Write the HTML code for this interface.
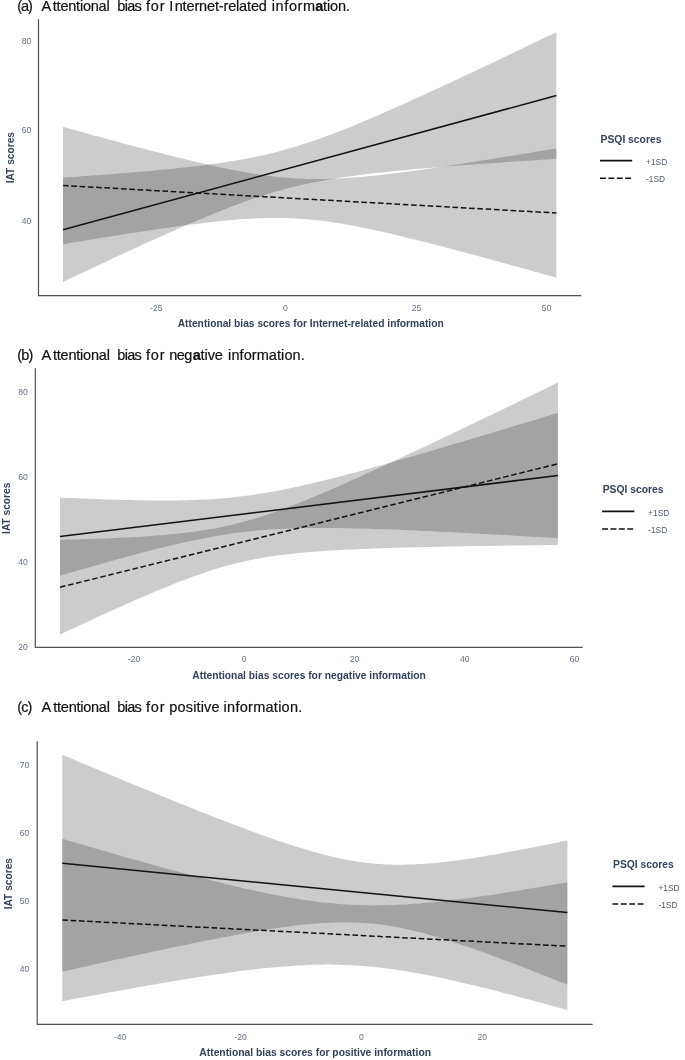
<!DOCTYPE html>
<html lang="en"><head><meta charset="utf-8"><title>Figure</title>
<style>
html,body{margin:0;padding:0;background:#fff;}
body{width:685px;height:1060px;overflow:hidden;}
svg{display:block;}
text{font-family:"Liberation Sans",Arial,sans-serif;}
.ttl{font-size:14.5px;fill:#111;stroke:#111;stroke-width:0.2px;}
.tick{font-size:8.6px;fill:#657184;}
.axt{font-size:10.25px;font-weight:bold;fill:#34425c;}
.leg{font-size:8.4px;fill:#4e5b72;}
</style></head>
<body>
<svg width="685" height="1060" viewBox="0 0 685 1060">
<rect width="685" height="1060" fill="#fff"/>
<g>
<text class="ttl" y="11.2" xml:space="preserve"><tspan x="17.3" letter-spacing="-1.11">(a) </tspan><tspan x="41.5" letter-spacing="0.00">A</tspan><tspan x="52.8" letter-spacing="-0.22">ttentional </tspan><tspan x="117.3" letter-spacing="-0.70">bias </tspan><tspan x="145.9" letter-spacing="0.84">for </tspan><tspan x="169.3" letter-spacing="0.00">I</tspan><tspan x="174.7" letter-spacing="-0.15">nternet-related </tspan><tspan x="271.8" letter-spacing="0.60">inform</tspan><tspan x="315.3" letter-spacing="0.00" font-weight="bold">a</tspan><tspan x="323.1" letter-spacing="-0.15">tion.</tspan></text>
<polygon points="63.0,177.6 67.1,177.3 71.3,177.0 75.4,176.7 79.6,176.4 83.7,176.1 87.9,175.9 92.0,175.5 96.2,175.2 100.3,174.9 104.5,174.6 108.6,174.3 112.8,174.0 116.9,173.7 121.0,173.3 125.2,173.0 129.3,172.7 133.5,172.3 137.6,172.0 141.8,171.6 145.9,171.3 150.1,170.9 154.2,170.5 158.4,170.1 162.5,169.7 166.7,169.3 170.8,168.9 174.9,168.5 179.1,168.1 183.2,167.6 187.4,167.2 191.5,166.7 195.7,166.2 199.8,165.7 204.0,165.2 208.1,164.6 212.3,164.1 216.4,163.5 220.6,162.9 224.7,162.3 228.8,161.6 233.0,161.0 237.1,160.3 241.3,159.5 245.4,158.8 249.6,158.0 253.7,157.2 257.9,156.3 262.0,155.4 266.2,154.4 270.3,153.5 274.5,152.4 278.6,151.4 282.7,150.3 286.9,149.1 291.0,147.9 295.2,146.7 299.3,145.4 303.5,144.1 307.6,142.7 311.8,141.4 315.9,139.9 320.1,138.5 324.2,137.0 328.4,135.4 332.5,133.9 336.7,132.3 340.8,130.7 344.9,129.1 349.1,127.4 353.2,125.7 357.4,124.0 361.5,122.3 365.7,120.5 369.8,118.8 374.0,117.0 378.1,115.2 382.3,113.4 386.4,111.6 390.6,109.8 394.7,108.0 398.8,106.1 403.0,104.3 407.1,102.4 411.3,100.5 415.4,98.6 419.6,96.8 423.7,94.9 427.9,93.0 432.0,91.1 436.2,89.1 440.3,87.2 444.5,85.3 448.6,83.4 452.7,81.4 456.9,79.5 461.0,77.6 465.2,75.6 469.3,73.7 473.5,71.7 477.6,69.8 481.8,67.8 485.9,65.8 490.1,63.9 494.2,61.9 498.4,59.9 502.5,58.0 506.6,56.0 510.8,54.0 514.9,52.0 519.1,50.1 523.2,48.1 527.4,46.1 531.5,44.1 535.7,42.1 539.8,40.1 544.0,38.1 548.1,36.1 552.3,34.2 556.4,32.2 556.4,158.8 552.3,159.1 548.1,159.4 544.0,159.6 539.8,159.9 535.7,160.2 531.5,160.4 527.4,160.7 523.2,161.0 519.1,161.3 514.9,161.5 510.8,161.8 506.6,162.1 502.5,162.4 498.4,162.7 494.2,163.0 490.1,163.2 485.9,163.5 481.8,163.8 477.6,164.1 473.5,164.4 469.3,164.7 465.2,165.0 461.0,165.4 456.9,165.7 452.7,166.0 448.6,166.3 444.5,166.6 440.3,167.0 436.2,167.3 432.0,167.7 427.9,168.0 423.7,168.4 419.6,168.7 415.4,169.1 411.3,169.5 407.1,169.9 403.0,170.3 398.8,170.7 394.7,171.1 390.6,171.5 386.4,171.9 382.3,172.4 378.1,172.8 374.0,173.3 369.8,173.8 365.7,174.3 361.5,174.8 357.4,175.3 353.2,175.9 349.1,176.5 344.9,177.1 340.8,177.7 336.7,178.3 332.5,179.0 328.4,179.7 324.2,180.4 320.1,181.2 315.9,182.0 311.8,182.8 307.6,183.7 303.5,184.6 299.3,185.5 295.2,186.5 291.0,187.5 286.9,188.6 282.7,189.7 278.6,190.9 274.5,192.1 270.3,193.3 266.2,194.6 262.0,195.9 257.9,197.2 253.7,198.6 249.6,200.0 245.4,201.5 241.3,203.0 237.1,204.5 233.0,206.1 228.8,207.7 224.7,209.3 220.6,210.9 216.4,212.6 212.3,214.3 208.1,216.0 204.0,217.7 199.8,219.4 195.7,221.2 191.5,222.9 187.4,224.7 183.2,226.5 179.1,228.3 174.9,230.2 170.8,232.0 166.7,233.8 162.5,235.7 158.4,237.6 154.2,239.4 150.1,241.3 145.9,243.2 141.8,245.1 137.6,247.0 133.5,248.9 129.3,250.8 125.2,252.7 121.0,254.7 116.9,256.6 112.8,258.5 108.6,260.5 104.5,262.4 100.3,264.3 96.2,266.3 92.0,268.3 87.9,270.2 83.7,272.2 79.6,274.1 75.4,276.1 71.3,278.1 67.1,280.0 63.0,282.0" fill="rgba(0,0,0,0.2)"/>
<polygon points="63.0,126.8 67.1,128.0 71.3,129.1 75.4,130.3 79.6,131.4 83.7,132.6 87.9,133.7 92.0,134.9 96.2,136.0 100.3,137.1 104.5,138.3 108.6,139.4 112.8,140.5 116.9,141.6 121.0,142.7 125.2,143.9 129.3,145.0 133.5,146.1 137.6,147.2 141.8,148.3 145.9,149.3 150.1,150.4 154.2,151.5 158.4,152.6 162.5,153.6 166.7,154.7 170.8,155.7 174.9,156.8 179.1,157.8 183.2,158.8 187.4,159.8 191.5,160.8 195.7,161.8 199.8,162.8 204.0,163.8 208.1,164.7 212.3,165.6 216.4,166.5 220.6,167.4 224.7,168.3 228.8,169.2 233.0,170.0 237.1,170.8 241.3,171.6 245.4,172.3 249.6,173.0 253.7,173.7 257.9,174.4 262.0,175.0 266.2,175.6 270.3,176.1 274.5,176.6 278.6,177.1 282.7,177.5 286.9,177.8 291.0,178.1 295.2,178.4 299.3,178.6 303.5,178.8 307.6,178.9 311.8,179.0 315.9,179.0 320.1,179.0 324.2,179.0 328.4,178.9 332.5,178.7 336.7,178.6 340.8,178.4 344.9,178.1 349.1,177.8 353.2,177.5 357.4,177.2 361.5,176.9 365.7,176.5 369.8,176.1 374.0,175.7 378.1,175.2 382.3,174.8 386.4,174.3 390.6,173.8 394.7,173.3 398.8,172.8 403.0,172.2 407.1,171.7 411.3,171.1 415.4,170.6 419.6,170.0 423.7,169.4 427.9,168.8 432.0,168.2 436.2,167.6 440.3,167.0 444.5,166.4 448.6,165.8 452.7,165.2 456.9,164.5 461.0,163.9 465.2,163.2 469.3,162.6 473.5,162.0 477.6,161.3 481.8,160.6 485.9,160.0 490.1,159.3 494.2,158.6 498.4,158.0 502.5,157.3 506.6,156.6 510.8,155.9 514.9,155.3 519.1,154.6 523.2,153.9 527.4,153.2 531.5,152.5 535.7,151.8 539.8,151.1 544.0,150.4 548.1,149.7 552.3,149.0 556.4,148.3 556.4,277.7 552.3,276.5 548.1,275.3 544.0,274.2 539.8,273.0 535.7,271.9 531.5,270.7 527.4,269.6 523.2,268.4 519.1,267.3 514.9,266.1 510.8,265.0 506.6,263.8 502.5,262.7 498.4,261.6 494.2,260.4 490.1,259.3 485.9,258.2 481.8,257.0 477.6,255.9 473.5,254.8 469.3,253.7 465.2,252.6 461.0,251.5 456.9,250.4 452.7,249.3 448.6,248.2 444.5,247.1 440.3,246.0 436.2,245.0 432.0,243.9 427.9,242.8 423.7,241.8 419.6,240.7 415.4,239.7 411.3,238.7 407.1,237.7 403.0,236.7 398.8,235.7 394.7,234.7 390.6,233.7 386.4,232.8 382.3,231.8 378.1,230.9 374.0,230.0 369.8,229.1 365.7,228.3 361.5,227.4 357.4,226.6 353.2,225.8 349.1,225.0 344.9,224.3 340.8,223.6 336.7,222.9 332.5,222.3 328.4,221.7 324.2,221.1 320.1,220.6 315.9,220.2 311.8,219.7 307.6,219.3 303.5,219.0 299.3,218.7 295.2,218.5 291.0,218.3 286.9,218.1 282.7,218.0 278.6,218.0 274.5,218.0 270.3,218.0 266.2,218.1 262.0,218.2 257.9,218.3 253.7,218.5 249.6,218.8 245.4,219.0 241.3,219.3 237.1,219.6 233.0,220.0 228.8,220.3 224.7,220.7 220.6,221.1 216.4,221.6 212.3,222.0 208.1,222.5 204.0,223.0 199.8,223.5 195.7,224.0 191.5,224.5 187.4,225.0 183.2,225.6 179.1,226.1 174.9,226.7 170.8,227.3 166.7,227.9 162.5,228.5 158.4,229.1 154.2,229.7 150.1,230.3 145.9,230.9 141.8,231.5 137.6,232.2 133.5,232.8 129.3,233.4 125.2,234.1 121.0,234.7 116.9,235.4 112.8,236.0 108.6,236.7 104.5,237.4 100.3,238.0 96.2,238.7 92.0,239.4 87.9,240.0 83.7,240.7 79.6,241.4 75.4,242.1 71.3,242.8 67.1,243.5 63.0,244.2" fill="rgba(0,0,0,0.2)"/>
<line x1="63.0" y1="229.8" x2="556.4" y2="95.5" stroke="#111" stroke-width="1.5"/>
<line x1="63.0" y1="185.5" x2="556.4" y2="213.0" stroke="#111" stroke-width="1.5" stroke-dasharray="5.6 2.7"/>
<path d="M38.5 19.3 V295.6 H581.3" fill="none" stroke="#505050" stroke-width="1.2"/>
<text class="tick" x="31.3" y="43.5" text-anchor="end">80</text>
<text class="tick" x="31.3" y="133.1" text-anchor="end">60</text>
<text class="tick" x="31.3" y="224.0" text-anchor="end">40</text>
<text class="tick" x="156.4" y="311.1" text-anchor="middle">-25</text>
<text class="tick" x="285.3" y="311.1" text-anchor="middle">0</text>
<text class="tick" x="416.6" y="311.1" text-anchor="middle">25</text>
<text class="tick" x="546.4" y="311.1" text-anchor="middle">50</text>
<text class="axt" x="177.7" y="326.5" textLength="266.0" lengthAdjust="spacingAndGlyphs">Attentional bias scores for Internet-related information</text>
<text class="axt" transform="translate(13.6 157.7) rotate(-90)" text-anchor="middle" textLength="51.3" lengthAdjust="spacingAndGlyphs">IAT scores</text>
<text class="axt" x="600.6" y="142.6" textLength="60.8" lengthAdjust="spacingAndGlyphs">PSQI scores</text>
<line x1="600.0" y1="160.6" x2="632.2" y2="160.6" stroke="#111" stroke-width="1.6"/>
<line x1="600.0" y1="178.2" x2="632.2" y2="178.2" stroke="#111" stroke-width="1.6" stroke-dasharray="5.9 2.5"/>
<text class="leg" x="646.0" y="164.6">+1SD</text>
<text class="leg" x="646.0" y="182.1">-1SD</text>
</g>
<g>
<text class="ttl" y="359.8" xml:space="preserve"><tspan x="17.2" letter-spacing="-0.76">(b) </tspan><tspan x="41.5" letter-spacing="0.00">A</tspan><tspan x="53.0" letter-spacing="-0.22">ttentional </tspan><tspan x="117.3" letter-spacing="-0.70">bias </tspan><tspan x="145.9" letter-spacing="0.84">for </tspan><tspan x="169.3" letter-spacing="-0.55">neg</tspan><tspan x="192.8" letter-spacing="0.00" font-weight="bold">a</tspan><tspan x="200.6" letter-spacing="-0.09">tive </tspan><tspan x="228.1" letter-spacing="0.08">information.</tspan></text>
<polygon points="60.0,497.5 64.2,497.7 68.4,497.9 72.6,498.1 76.7,498.3 80.9,498.4 85.1,498.6 89.3,498.8 93.5,498.9 97.7,499.1 101.8,499.3 106.0,499.4 110.2,499.5 114.4,499.7 118.6,499.8 122.8,499.9 126.9,500.0 131.1,500.1 135.3,500.2 139.5,500.3 143.7,500.3 147.9,500.4 152.0,500.4 156.2,500.5 160.4,500.5 164.6,500.5 168.8,500.5 173.0,500.4 177.2,500.4 181.3,500.3 185.5,500.2 189.7,500.1 193.9,500.0 198.1,499.8 202.3,499.6 206.4,499.4 210.6,499.2 214.8,498.9 219.0,498.6 223.2,498.2 227.4,497.9 231.5,497.5 235.7,497.0 239.9,496.5 244.1,496.0 248.3,495.5 252.5,494.9 256.6,494.3 260.8,493.6 265.0,493.0 269.2,492.2 273.4,491.5 277.6,490.7 281.8,489.9 285.9,489.1 290.1,488.2 294.3,487.3 298.5,486.4 302.7,485.5 306.9,484.5 311.0,483.6 315.2,482.6 319.4,481.6 323.6,480.5 327.8,479.5 332.0,478.4 336.1,477.4 340.3,476.3 344.5,475.2 348.7,474.1 352.9,473.0 357.1,471.9 361.3,470.7 365.4,469.6 369.6,468.4 373.8,467.3 378.0,466.1 382.2,464.9 386.4,463.8 390.5,462.6 394.7,461.4 398.9,460.2 403.1,459.0 407.3,457.8 411.5,456.6 415.6,455.4 419.8,454.2 424.0,453.0 428.2,451.7 432.4,450.5 436.6,449.3 440.7,448.1 444.9,446.8 449.1,445.6 453.3,444.3 457.5,443.1 461.7,441.9 465.9,440.6 470.0,439.4 474.2,438.1 478.4,436.9 482.6,435.6 486.8,434.4 491.0,433.1 495.1,431.8 499.3,430.6 503.5,429.3 507.7,428.1 511.9,426.8 516.1,425.5 520.2,424.3 524.4,423.0 528.6,421.7 532.8,420.5 537.0,419.2 541.2,417.9 545.3,416.6 549.5,415.4 553.7,414.1 557.9,412.8 557.9,538.2 553.7,537.9 549.5,537.7 545.3,537.4 541.2,537.2 537.0,537.0 532.8,536.7 528.6,536.5 524.4,536.2 520.2,536.0 516.1,535.7 511.9,535.5 507.7,535.3 503.5,535.0 499.3,534.8 495.1,534.6 491.0,534.3 486.8,534.1 482.6,533.9 478.4,533.6 474.2,533.4 470.0,533.2 465.9,533.0 461.7,532.8 457.5,532.5 453.3,532.3 449.1,532.1 444.9,531.9 440.7,531.7 436.6,531.5 432.4,531.3 428.2,531.1 424.0,530.9 419.8,530.7 415.6,530.5 411.5,530.3 407.3,530.2 403.1,530.0 398.9,529.8 394.7,529.6 390.5,529.5 386.4,529.3 382.2,529.2 378.0,529.0 373.8,528.9 369.6,528.8 365.4,528.6 361.3,528.5 357.1,528.4 352.9,528.3 348.7,528.2 344.5,528.2 340.3,528.1 336.1,528.0 332.0,528.0 327.8,528.0 323.6,528.0 319.4,528.0 315.2,528.0 311.0,528.0 306.9,528.1 302.7,528.1 298.5,528.2 294.3,528.4 290.1,528.5 285.9,528.7 281.8,528.9 277.6,529.1 273.4,529.3 269.2,529.6 265.0,529.9 260.8,530.3 256.6,530.6 252.5,531.1 248.3,531.5 244.1,532.0 239.9,532.5 235.7,533.1 231.5,533.6 227.4,534.3 223.2,534.9 219.0,535.6 214.8,536.3 210.6,537.1 206.4,537.9 202.3,538.7 198.1,539.5 193.9,540.4 189.7,541.3 185.5,542.2 181.3,543.1 177.2,544.1 173.0,545.0 168.8,546.0 164.6,547.0 160.4,548.1 156.2,549.1 152.0,550.2 147.9,551.2 143.7,552.3 139.5,553.4 135.3,554.5 131.1,555.6 126.9,556.8 122.8,557.9 118.6,559.0 114.4,560.2 110.2,561.3 106.0,562.5 101.8,563.7 97.7,564.9 93.5,566.0 89.3,567.2 85.1,568.4 80.9,569.6 76.7,570.8 72.6,572.0 68.4,573.2 64.2,574.5 60.0,575.7" fill="rgba(0,0,0,0.2)"/>
<polygon points="60.0,539.9 64.2,539.7 68.4,539.6 72.6,539.5 76.7,539.4 80.9,539.3 85.1,539.1 89.3,539.0 93.5,538.8 97.7,538.7 101.8,538.5 106.0,538.4 110.2,538.2 114.4,538.0 118.6,537.8 122.8,537.6 126.9,537.4 131.1,537.2 135.3,537.0 139.5,536.7 143.7,536.5 147.9,536.2 152.0,535.9 156.2,535.6 160.4,535.2 164.6,534.9 168.8,534.5 173.0,534.1 177.2,533.7 181.3,533.3 185.5,532.8 189.7,532.3 193.9,531.7 198.1,531.1 202.3,530.5 206.4,529.8 210.6,529.1 214.8,528.4 219.0,527.6 223.2,526.7 227.4,525.8 231.5,524.9 235.7,523.8 239.9,522.8 244.1,521.7 248.3,520.5 252.5,519.3 256.6,518.0 260.8,516.7 265.0,515.3 269.2,513.9 273.4,512.5 277.6,511.0 281.8,509.5 285.9,507.9 290.1,506.3 294.3,504.7 298.5,503.1 302.7,501.4 306.9,499.7 311.0,498.0 315.2,496.2 319.4,494.5 323.6,492.7 327.8,490.9 332.0,489.1 336.1,487.2 340.3,485.4 344.5,483.6 348.7,481.7 352.9,479.8 357.1,477.9 361.3,476.0 365.4,474.1 369.6,472.2 373.8,470.3 378.0,468.4 382.2,466.5 386.4,464.5 390.5,462.6 394.7,460.6 398.9,458.7 403.1,456.7 407.3,454.8 411.5,452.8 415.6,450.8 419.8,448.9 424.0,446.9 428.2,444.9 432.4,442.9 436.6,441.0 440.7,439.0 444.9,437.0 449.1,435.0 453.3,433.0 457.5,431.0 461.7,429.0 465.9,427.0 470.0,425.0 474.2,423.0 478.4,421.0 482.6,419.0 486.8,417.0 491.0,415.0 495.1,412.9 499.3,410.9 503.5,408.9 507.7,406.9 511.9,404.9 516.1,402.9 520.2,400.8 524.4,398.8 528.6,396.8 532.8,394.8 537.0,392.7 541.2,390.7 545.3,388.7 549.5,386.7 553.7,384.6 557.9,382.6 557.9,545.0 553.7,545.0 549.5,545.1 545.3,545.1 541.2,545.2 537.0,545.2 532.8,545.3 528.6,545.3 524.4,545.4 520.2,545.4 516.1,545.5 511.9,545.5 507.7,545.6 503.5,545.7 499.3,545.7 495.1,545.8 491.0,545.8 486.8,545.9 482.6,546.0 478.4,546.0 474.2,546.1 470.0,546.2 465.9,546.2 461.7,546.3 457.5,546.4 453.3,546.5 449.1,546.5 444.9,546.6 440.7,546.7 436.6,546.8 432.4,546.9 428.2,547.0 424.0,547.1 419.8,547.2 415.6,547.3 411.5,547.4 407.3,547.5 403.1,547.6 398.9,547.7 394.7,547.8 390.5,548.0 386.4,548.1 382.2,548.2 378.0,548.4 373.8,548.5 369.6,548.7 365.4,548.9 361.3,549.0 357.1,549.2 352.9,549.4 348.7,549.6 344.5,549.8 340.3,550.0 336.1,550.3 332.0,550.5 327.8,550.8 323.6,551.1 319.4,551.4 315.2,551.7 311.0,552.0 306.9,552.3 302.7,552.7 298.5,553.1 294.3,553.5 290.1,554.0 285.9,554.5 281.8,555.0 277.6,555.5 273.4,556.1 269.2,556.8 265.0,557.4 260.8,558.1 256.6,558.9 252.5,559.7 248.3,560.6 244.1,561.5 239.9,562.4 235.7,563.4 231.5,564.5 227.4,565.6 223.2,566.8 219.0,568.0 214.8,569.3 210.6,570.6 206.4,572.0 202.3,573.4 198.1,574.8 193.9,576.3 189.7,577.8 185.5,579.4 181.3,581.0 177.2,582.6 173.0,584.3 168.8,586.0 164.6,587.7 160.4,589.4 156.2,591.1 152.0,592.9 147.9,594.7 143.7,596.5 139.5,598.3 135.3,600.1 131.1,601.9 126.9,603.8 122.8,605.7 118.6,607.5 114.4,609.4 110.2,611.3 106.0,613.2 101.8,615.1 97.7,617.0 93.5,619.0 89.3,620.9 85.1,622.8 80.9,624.8 76.7,626.7 72.6,628.7 68.4,630.6 64.2,632.6 60.0,634.5" fill="rgba(0,0,0,0.2)"/>
<line x1="60.0" y1="536.6" x2="557.9" y2="475.5" stroke="#111" stroke-width="1.5"/>
<line x1="60.0" y1="587.2" x2="557.9" y2="463.8" stroke="#111" stroke-width="1.5" stroke-dasharray="5.6 2.7"/>
<path d="M35.3 368.3 V647.4 H582.7" fill="none" stroke="#505050" stroke-width="1.2"/>
<text class="tick" x="27.9" y="395.0" text-anchor="end">80</text>
<text class="tick" x="27.9" y="479.9" text-anchor="end">60</text>
<text class="tick" x="27.9" y="565.2" text-anchor="end">40</text>
<text class="tick" x="27.9" y="649.9" text-anchor="end">20</text>
<text class="tick" x="134.0" y="662.2" text-anchor="middle">-20</text>
<text class="tick" x="244.2" y="662.2" text-anchor="middle">0</text>
<text class="tick" x="354.5" y="662.2" text-anchor="middle">20</text>
<text class="tick" x="464.7" y="662.2" text-anchor="middle">40</text>
<text class="tick" x="574.5" y="662.2" text-anchor="middle">60</text>
<text class="axt" x="192.3" y="678.7" textLength="233.5" lengthAdjust="spacingAndGlyphs">Attentional bias scores for negative information</text>
<text class="axt" transform="translate(9.9 508.3) rotate(-90)" text-anchor="middle" textLength="51.3" lengthAdjust="spacingAndGlyphs">IAT scores</text>
<text class="axt" x="602.7" y="492.9" textLength="60.8" lengthAdjust="spacingAndGlyphs">PSQI scores</text>
<line x1="602.1" y1="511.4" x2="634.3" y2="511.4" stroke="#111" stroke-width="1.6"/>
<line x1="602.1" y1="529.0" x2="634.3" y2="529.0" stroke="#111" stroke-width="1.6" stroke-dasharray="5.9 2.5"/>
<text class="leg" x="648.1" y="515.7">+1SD</text>
<text class="leg" x="648.1" y="533.2">-1SD</text>
</g>
<g>
<text class="ttl" y="712.0" xml:space="preserve"><tspan x="17.2" letter-spacing="-0.85">(c) </tspan><tspan x="41.6" letter-spacing="0.00">A</tspan><tspan x="53.3" letter-spacing="-0.25">ttentional </tspan><tspan x="117.3" letter-spacing="-0.70">bias </tspan><tspan x="145.9" letter-spacing="0.84">for </tspan><tspan x="169.3" letter-spacing="0.16">positive </tspan><tspan x="223.6" letter-spacing="0.27">information.</tspan></text>
<polygon points="62.3,754.8 66.5,756.6 70.8,758.3 75.0,760.1 79.3,761.9 83.5,763.7 87.8,765.5 92.0,767.2 96.3,769.0 100.5,770.8 104.7,772.5 109.0,774.3 113.2,776.1 117.5,777.8 121.7,779.6 126.0,781.4 130.2,783.1 134.5,784.9 138.7,786.6 142.9,788.4 147.2,790.1 151.4,791.8 155.7,793.6 159.9,795.3 164.2,797.0 168.4,798.8 172.7,800.5 176.9,802.2 181.1,803.9 185.4,805.6 189.6,807.3 193.9,809.0 198.1,810.7 202.4,812.4 206.6,814.0 210.9,815.7 215.1,817.4 219.3,819.0 223.6,820.7 227.8,822.3 232.1,823.9 236.3,825.5 240.6,827.1 244.8,828.7 249.1,830.3 253.3,831.9 257.5,833.4 261.8,834.9 266.0,836.5 270.3,837.9 274.5,839.4 278.8,840.9 283.0,842.3 287.3,843.7 291.5,845.1 295.7,846.5 300.0,847.8 304.2,849.1 308.5,850.3 312.7,851.6 317.0,852.8 321.2,853.9 325.5,855.0 329.7,856.0 334.0,857.0 338.2,858.0 342.4,858.9 346.7,859.7 350.9,860.5 355.2,861.2 359.4,861.9 363.7,862.4 367.9,863.0 372.2,863.4 376.4,863.8 380.6,864.1 384.9,864.4 389.1,864.5 393.4,864.7 397.6,864.7 401.9,864.7 406.1,864.6 410.4,864.5 414.6,864.4 418.8,864.1 423.1,863.9 427.3,863.6 431.6,863.2 435.8,862.8 440.1,862.4 444.3,861.9 448.6,861.4 452.8,860.9 457.0,860.3 461.3,859.8 465.5,859.2 469.8,858.5 474.0,857.9 478.3,857.2 482.5,856.5 486.8,855.8 491.0,855.1 495.2,854.4 499.5,853.6 503.7,852.9 508.0,852.1 512.2,851.3 516.5,850.5 520.7,849.7 525.0,848.9 529.2,848.1 533.4,847.3 537.7,846.4 541.9,845.6 546.2,844.7 550.4,843.9 554.7,843.0 558.9,842.2 563.2,841.3 567.4,840.4 567.4,984.8 563.2,983.1 558.9,981.4 554.7,979.7 550.4,978.0 546.2,976.3 541.9,974.6 537.7,973.0 533.4,971.3 529.2,969.6 525.0,968.0 520.7,966.3 516.5,964.7 512.2,963.1 508.0,961.5 503.7,959.9 499.5,958.3 495.2,956.7 491.0,955.1 486.8,953.6 482.5,952.1 478.3,950.5 474.0,949.0 469.8,947.6 465.5,946.1 461.3,944.7 457.0,943.3 452.8,941.9 448.6,940.5 444.3,939.2 440.1,937.9 435.8,936.7 431.6,935.4 427.3,934.2 423.1,933.1 418.8,932.0 414.6,931.0 410.4,930.0 406.1,929.0 401.9,928.1 397.6,927.3 393.4,926.5 389.1,925.8 384.9,925.1 380.6,924.6 376.4,924.0 372.2,923.6 367.9,923.2 363.7,922.9 359.4,922.7 355.2,922.5 350.9,922.4 346.7,922.3 342.4,922.3 338.2,922.4 334.0,922.5 329.7,922.7 325.5,922.9 321.2,923.1 317.0,923.5 312.7,923.8 308.5,924.2 304.2,924.6 300.0,925.1 295.7,925.6 291.5,926.1 287.3,926.7 283.0,927.3 278.8,927.9 274.5,928.5 270.3,929.1 266.0,929.8 261.8,930.5 257.5,931.2 253.3,931.9 249.1,932.6 244.8,933.4 240.6,934.1 236.3,934.9 232.1,935.7 227.8,936.5 223.6,937.3 219.3,938.1 215.1,938.9 210.9,939.8 206.6,940.6 202.4,941.4 198.1,942.3 193.9,943.1 189.6,944.0 185.4,944.9 181.1,945.7 176.9,946.6 172.7,947.5 168.4,948.4 164.2,949.3 159.9,950.2 155.7,951.1 151.4,952.0 147.2,952.9 142.9,953.8 138.7,954.7 134.5,955.7 130.2,956.6 126.0,957.5 121.7,958.4 117.5,959.4 113.2,960.3 109.0,961.2 104.7,962.2 100.5,963.1 96.3,964.0 92.0,965.0 87.8,965.9 83.5,966.9 79.3,967.8 75.0,968.8 70.8,969.7 66.5,970.7 62.3,971.6" fill="rgba(0,0,0,0.2)"/>
<polygon points="62.3,838.7 66.5,840.0 70.8,841.2 75.0,842.5 79.3,843.7 83.5,845.0 87.8,846.2 92.0,847.4 96.3,848.7 100.5,849.9 104.7,851.1 109.0,852.3 113.2,853.6 117.5,854.8 121.7,856.0 126.0,857.2 130.2,858.4 134.5,859.6 138.7,860.8 142.9,862.0 147.2,863.2 151.4,864.3 155.7,865.5 159.9,866.7 164.2,867.9 168.4,869.0 172.7,870.2 176.9,871.3 181.1,872.5 185.4,873.6 189.6,874.7 193.9,875.8 198.1,876.9 202.4,878.0 206.6,879.1 210.9,880.2 215.1,881.3 219.3,882.3 223.6,883.4 227.8,884.4 232.1,885.4 236.3,886.4 240.6,887.4 244.8,888.4 249.1,889.4 253.3,890.3 257.5,891.2 261.8,892.2 266.0,893.0 270.3,893.9 274.5,894.7 278.8,895.6 283.0,896.4 287.3,897.1 291.5,897.9 295.7,898.6 300.0,899.3 304.2,899.9 308.5,900.5 312.7,901.1 317.0,901.7 321.2,902.2 325.5,902.7 329.7,903.1 334.0,903.5 338.2,903.9 342.4,904.2 346.7,904.5 350.9,904.7 355.2,904.9 359.4,905.1 363.7,905.2 367.9,905.3 372.2,905.4 376.4,905.4 380.6,905.3 384.9,905.2 389.1,905.1 393.4,905.0 397.6,904.8 401.9,904.6 406.1,904.4 410.4,904.1 414.6,903.8 418.8,903.5 423.1,903.1 427.3,902.8 431.6,902.4 435.8,901.9 440.1,901.5 444.3,901.0 448.6,900.5 452.8,900.0 457.0,899.5 461.3,899.0 465.5,898.4 469.8,897.9 474.0,897.3 478.3,896.7 482.5,896.1 486.8,895.5 491.0,894.9 495.2,894.2 499.5,893.6 503.7,892.9 508.0,892.2 512.2,891.6 516.5,890.9 520.7,890.2 525.0,889.5 529.2,888.8 533.4,888.1 537.7,887.4 541.9,886.6 546.2,885.9 550.4,885.2 554.7,884.4 558.9,883.7 563.2,882.9 567.4,882.2 567.4,1010.2 563.2,1009.0 558.9,1007.8 554.7,1006.6 550.4,1005.5 546.2,1004.3 541.9,1003.1 537.7,1002.0 533.4,1000.8 529.2,999.6 525.0,998.5 520.7,997.4 516.5,996.2 512.2,995.1 508.0,994.0 503.7,992.9 499.5,991.8 495.2,990.7 491.0,989.6 486.8,988.6 482.5,987.5 478.3,986.4 474.0,985.4 469.8,984.4 465.5,983.4 461.3,982.4 457.0,981.4 452.8,980.5 448.6,979.5 444.3,978.6 440.1,977.7 435.8,976.8 431.6,975.9 427.3,975.1 423.1,974.3 418.8,973.5 414.6,972.7 410.4,972.0 406.1,971.3 401.9,970.6 397.6,970.0 393.4,969.3 389.1,968.8 384.9,968.2 380.6,967.7 376.4,967.2 372.2,966.8 367.9,966.4 363.7,966.0 359.4,965.7 355.2,965.4 350.9,965.2 346.7,965.0 342.4,964.9 338.2,964.7 334.0,964.7 329.7,964.6 325.5,964.6 321.2,964.7 317.0,964.7 312.7,964.8 308.5,965.0 304.2,965.2 300.0,965.4 295.7,965.6 291.5,965.9 287.3,966.2 283.0,966.5 278.8,966.9 274.5,967.3 270.3,967.7 266.0,968.1 261.8,968.5 257.5,969.0 253.3,969.5 249.1,970.0 244.8,970.5 240.6,971.1 236.3,971.6 232.1,972.2 227.8,972.8 223.6,973.4 219.3,974.0 215.1,974.6 210.9,975.2 206.6,975.8 202.4,976.5 198.1,977.2 193.9,977.8 189.6,978.5 185.4,979.2 181.1,979.9 176.9,980.6 172.7,981.3 168.4,982.0 164.2,982.7 159.9,983.4 155.7,984.2 151.4,984.9 147.2,985.6 142.9,986.4 138.7,987.1 134.5,987.9 130.2,988.7 126.0,989.4 121.7,990.2 117.5,991.0 113.2,991.7 109.0,992.5 104.7,993.3 100.5,994.1 96.3,994.9 92.0,995.6 87.8,996.4 83.5,997.2 79.3,998.0 75.0,998.8 70.8,999.6 66.5,1000.4 62.3,1001.3" fill="rgba(0,0,0,0.2)"/>
<line x1="62.3" y1="863.2" x2="567.4" y2="912.6" stroke="#111" stroke-width="1.5"/>
<line x1="62.3" y1="920.0" x2="567.4" y2="946.2" stroke="#111" stroke-width="1.5" stroke-dasharray="5.6 2.7"/>
<path d="M37.2 741.3 V1024.4 H592.6" fill="none" stroke="#505050" stroke-width="1.2"/>
<text class="tick" x="29.3" y="767.8" text-anchor="end">70</text>
<text class="tick" x="29.3" y="835.7" text-anchor="end">60</text>
<text class="tick" x="29.3" y="904.2" text-anchor="end">50</text>
<text class="tick" x="29.3" y="972.0" text-anchor="end">40</text>
<text class="tick" x="120.1" y="1040.0" text-anchor="middle">-40</text>
<text class="tick" x="240.6" y="1040.0" text-anchor="middle">-20</text>
<text class="tick" x="361.3" y="1040.0" text-anchor="middle">0</text>
<text class="tick" x="482.2" y="1040.0" text-anchor="middle">20</text>
<text class="axt" x="199.3" y="1055.5" textLength="231.7" lengthAdjust="spacingAndGlyphs">Attentional bias scores for positive information</text>
<text class="axt" transform="translate(11.7 883.7) rotate(-90)" text-anchor="middle" textLength="51.3" lengthAdjust="spacingAndGlyphs">IAT scores</text>
<text class="axt" x="613.0" y="867.9" textLength="60.8" lengthAdjust="spacingAndGlyphs">PSQI scores</text>
<line x1="612.4" y1="886.4" x2="644.6" y2="886.4" stroke="#111" stroke-width="1.6"/>
<line x1="612.4" y1="904.0" x2="644.6" y2="904.0" stroke="#111" stroke-width="1.6" stroke-dasharray="5.9 2.5"/>
<text class="leg" x="658.4" y="890.7">+1SD</text>
<text class="leg" x="658.4" y="908.2">-1SD</text>
</g>
</svg>
</body></html>
